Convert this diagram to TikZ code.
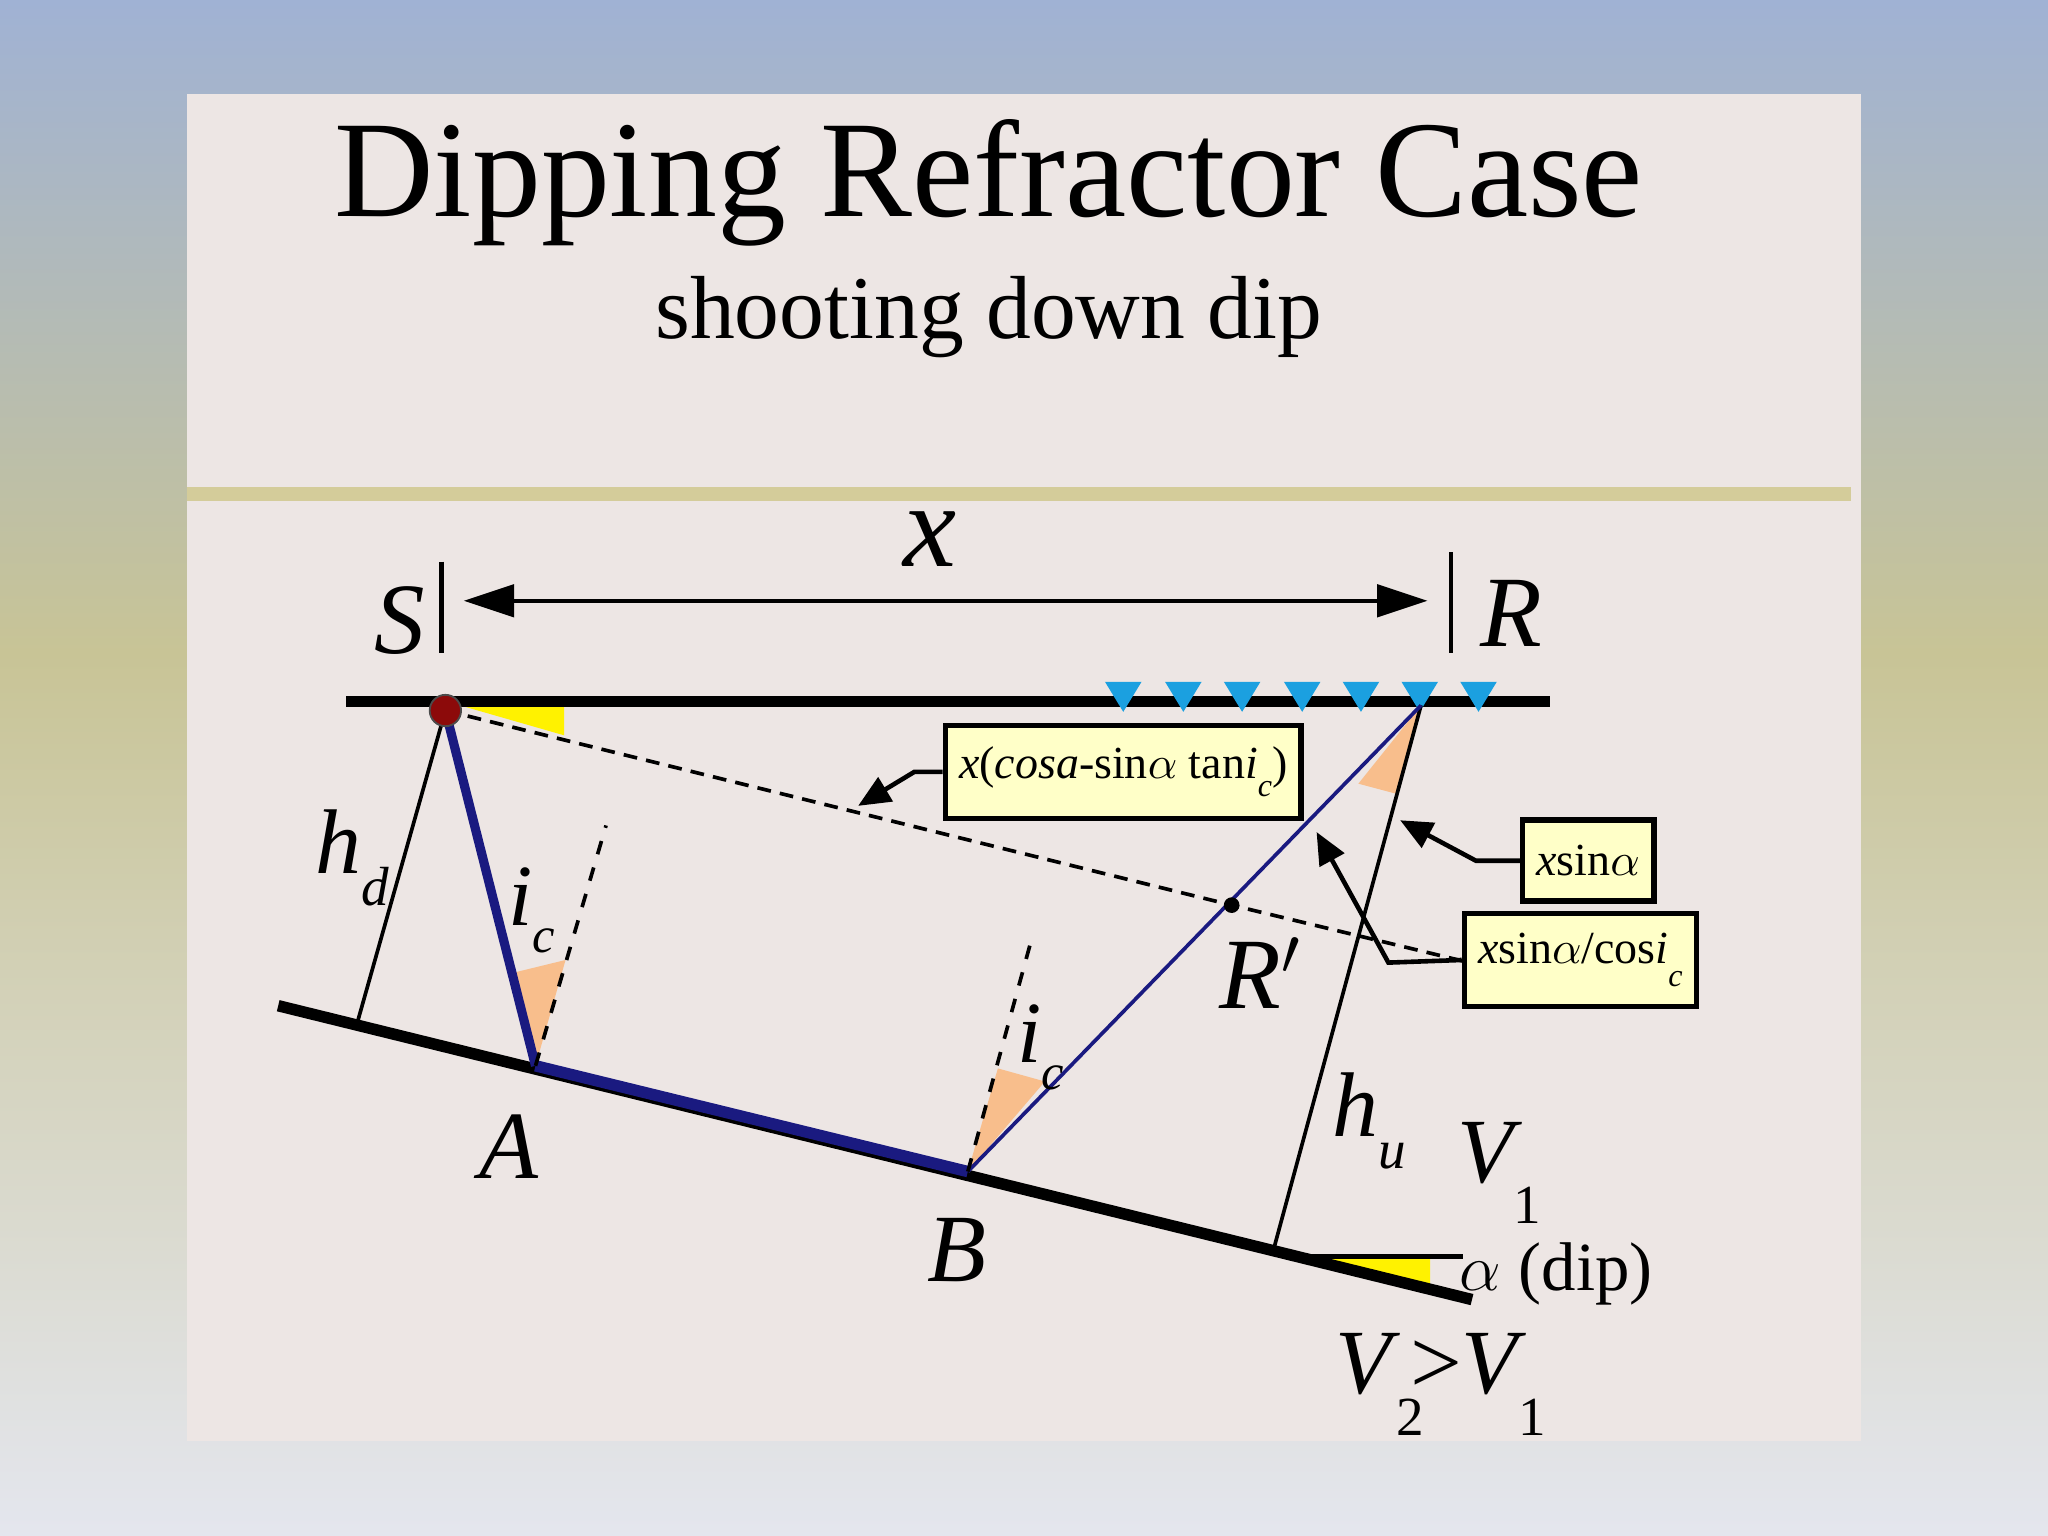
\documentclass[tikz,border=0pt]{standalone}
\usepackage{fontspec}
\setmainfont{Liberation Serif}
\usetikzlibrary{arrows.meta}
\definecolor{panel}{HTML}{EDE6E4}
\definecolor{boxy}{HTML}{FFFFC8}
\definecolor{cyanr}{HTML}{1BA0E0}
\definecolor{orng}{HTML}{F8BE8C}
\definecolor{navyr}{HTML}{1A1A80}
\tikzset{
 lbl/.style={inner sep=0pt,font=\fontsize{20}{22}\selectfont},
 tbox/.style={draw,line width=1.2pt,fill=boxy,inner sep=3pt,font=\fontsize{10}{12}\selectfont},
 callout/.style={line width=1pt,-{Triangle[length=7pt,width=6pt]}},
 normaldash/.style={dashed,line width=0.8pt},
 rcv/.style={fill=cyanr}
}
\begin{document}
\begin{tikzpicture}[x=0.01cm,y=-0.01cm]
\useasboundingbox (0,0) rectangle (1568,1176);
\shade[top color={rgb,255:red,160;green,178;blue,212},bottom color={rgb,255:red,200;green,196;blue,150}] (0,0) rectangle (1568,500);
\shade[top color={rgb,255:red,200;green,196;blue,150},bottom color={rgb,255:red,228;green,230;blue,238}] (0,500) rectangle (1568,1176);
\fill[panel] (143,72) rectangle (1425,1103);
\node[font=\fontsize{30}{34}\selectfont] (title) at (757,140) {Dipping Refractor Case};
\node[font=\fontsize{19.5}{24}\selectfont] (sub) at (757,243) {shooting down dip};
\draw[line width=3pt,color={rgb,255:red,212;green,204;blue,154}] (143,378) -- (1417,378);
\coordinate (S) at (341,544);
\coordinate (A) at (410,816);
\coordinate (B) at (741,897);
\coordinate (R) at (1088,540);
\coordinate (Rp) at (943,693);
\coordinate (Hd) at (273,785);
\coordinate (Hu) at (975,957);
\fill[yellow] (352,540) -- (432,540) -- (432,563) -- cycle;
\fill[yellow] (1000,962) -- (1095,962) -- (1095,985) -- cycle;
\fill[orng] (A) -- (392,745) -- (433,735) -- cycle;
\fill[orng] (B) -- (764,818) -- (800,828) -- cycle;
\fill[orng] (R) -- (1040,600) -- (1070,608) -- cycle;
\draw[line width=2.5pt] (213,770) -- (1127,995);
\draw[line width=2.5pt,navyr] (A) -- (B);
\draw[line width=1pt] (990,962) -- (1120,962);
\draw[line width=2.5pt] (265,537) -- (1187,537);
\foreach \xx in {860,906,951,997,1042,1087,1132}
 \fill[rcv] (\xx-14,522) -- (\xx+14,522) -- (\xx,545) -- cycle;
\draw[line width=1pt] (338,430) -- (338,500);
\draw[line width=1pt] (1111,423) -- (1111,500);
\draw[line width=1pt,{Triangle[length=11pt,width=7pt]}-{Triangle[length=11pt,width=7pt]}] (355,460) -- (1093,460);
\draw[line width=0.8pt] (S) -- (Hd);
\draw[line width=0.8pt] (R) -- (Hu);
\draw[line width=2pt,navyr] (S) -- (A);
\draw[line width=0.8pt,navyr] (B) -- (R);
\draw[normaldash] (A) -- (464,632);
\draw[normaldash] (B) -- (789,722);
\draw[dashed,dash pattern=on 3pt off 2pt,line width=0.8pt] (S) -- (Rp) -- (1125,737);
\fill (Rp) circle (6);
\fill[color={rgb,255:red,140;green,10;blue,10},draw=black!70] (S) circle (12);
\node[lbl,font=\fontsize{26}{28}\selectfont\itshape] (xl) at (712,413) {x};
\node[lbl,font=\fontsize{22}{24}\selectfont\itshape] (Sl) at (306,475) {S};
\node[lbl,font=\fontsize{22}{24}\selectfont\itshape] (Rl) at (1157,470) {R};
\node[lbl,font=\fontsize{22}{24}\selectfont\itshape] (Rpl) at (965,745) {R$'$};
\node[lbl,font=\fontsize{21}{24}\selectfont\itshape] (Al) at (390,878) {A};
\node[lbl,font=\fontsize{21}{24}\selectfont\itshape] (Bl) at (733,957) {B};
\node[lbl,font=\fontsize{20}{24}\selectfont\itshape] (hdl) at (270,657) {h\raisebox{-7pt}{\fontsize{12}{14}\selectfont d}};
\node[lbl,font=\fontsize{20}{24}\selectfont\itshape] (hul) at (1048,858) {h\raisebox{-7pt}{\fontsize{12}{14}\selectfont u}};
\node[lbl,font=\fontsize{19}{24}\selectfont\itshape] (ic1) at (407,697) {i\raisebox{-6pt}{\fontsize{11}{14}\selectfont c}};
\node[lbl,font=\fontsize{19}{24}\selectfont\itshape] (ic2) at (797,802) {i\raisebox{-6pt}{\fontsize{11}{14}\selectfont c}};
\node[lbl,font=\fontsize{20}{24}\selectfont\itshape] (V1) at (1148,898) {V\raisebox{-9pt}{\fontsize{12}{14}\selectfont\upshape 1}};
\node[lbl,font=\fontsize{15}{18}\selectfont,anchor=west] (dip) at (1117,975) {$\alpha$ (dip)};
\node[lbl,font=\fontsize{20}{24}\selectfont\itshape] (V21) at (1103,1060) {V\hspace{1pt}\raisebox{-9pt}{\fontsize{12}{14}\selectfont\upshape 2}\hspace{-3pt}\upshape{>}\itshape V\raisebox{-9pt}{\fontsize{12}{14}\selectfont\upshape 1}};
\node[tbox,minimum width=2.65cm,minimum height=0.71cm] (b1) at (860,591) {\itshape x\upshape(\itshape cosa\upshape-sin$\alpha$ tan\itshape i\raisebox{-4pt}{\fontsize{7}{9}\selectfont c}\upshape)};
\node[tbox,minimum width=0.96cm,minimum height=0.62cm] (b2) at (1216,659) {\itshape x\upshape sin$\alpha$};
\node[tbox,minimum width=1.71cm,minimum height=0.71cm] (b3) at (1210,735) {\itshape x\upshape sin$\alpha$/cos\itshape i\raisebox{-5pt}{\fontsize{7}{9}\selectfont c}};
\draw[callout] (b1.west) -- (700,591) -- (657,617);
\draw[callout] (b2.west) -- (1130,659) -- (1072,628);
\draw[callout] (b3.west) -- (1063,737) -- (1008,637);
\end{tikzpicture}
\end{document}
